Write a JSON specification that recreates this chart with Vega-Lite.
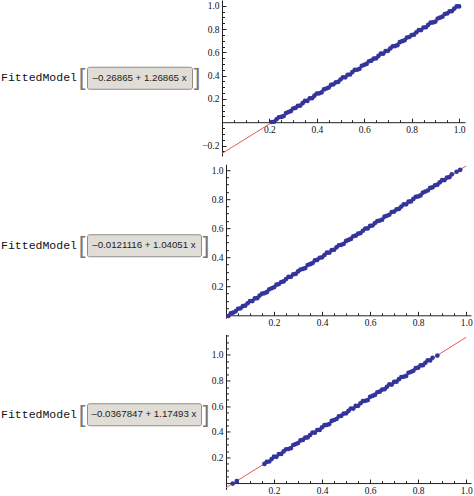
{
"$schema":"https://vega.github.io/schema/vega-lite/v6.json",
"padding":0,
"background":"white",
"spacing":7,
"datasets":{
"fit1":[{"x":0,"y":-0.26865},{"x":1,"y":1.0}],
"fit2":[{"x":0,"y":-0.0121116},{"x":1,"y":1.0284}],
"fit3":[{"x":0,"y":-0.0367847},{"x":1,"y":1.1381}],
"pts1":[{"x":0.21,"y":0.002},{"x":0.22,"y":0.004},{"x":0.23,"y":0.025},{"x":0.24,"y":0.043},{"x":0.25,"y":0.046},{"x":0.26,"y":0.053},{"x":0.27,"y":0.079},{"x":0.28,"y":0.087},{"x":0.29,"y":0.095},{"x":0.30,"y":0.118},{"x":0.31,"y":0.123},{"x":0.32,"y":0.140},{"x":0.33,"y":0.143},{"x":0.34,"y":0.164},{"x":0.35,"y":0.183},{"x":0.36,"y":0.183},{"x":0.37,"y":0.205},{"x":0.38,"y":0.207},{"x":0.39,"y":0.228},{"x":0.40,"y":0.246},{"x":0.41,"y":0.248},{"x":0.42,"y":0.256},{"x":0.43,"y":0.282},{"x":0.44,"y":0.290},{"x":0.45,"y":0.298},{"x":0.46,"y":0.321},{"x":0.47,"y":0.326},{"x":0.48,"y":0.343},{"x":0.49,"y":0.346},{"x":0.50,"y":0.367},{"x":0.51,"y":0.386},{"x":0.52,"y":0.386},{"x":0.53,"y":0.408},{"x":0.54,"y":0.410},{"x":0.55,"y":0.431},{"x":0.56,"y":0.449},{"x":0.57,"y":0.451},{"x":0.58,"y":0.459},{"x":0.59,"y":0.485},{"x":0.60,"y":0.493},{"x":0.61,"y":0.501},{"x":0.62,"y":0.524},{"x":0.63,"y":0.529},{"x":0.64,"y":0.546},{"x":0.65,"y":0.549},{"x":0.66,"y":0.570},{"x":0.67,"y":0.589},{"x":0.68,"y":0.589},{"x":0.69,"y":0.611},{"x":0.70,"y":0.613},{"x":0.71,"y":0.634},{"x":0.72,"y":0.652},{"x":0.73,"y":0.654},{"x":0.74,"y":0.662},{"x":0.75,"y":0.688},{"x":0.76,"y":0.696},{"x":0.77,"y":0.704},{"x":0.78,"y":0.727},{"x":0.79,"y":0.732},{"x":0.80,"y":0.749},{"x":0.81,"y":0.752},{"x":0.82,"y":0.773},{"x":0.83,"y":0.792},{"x":0.84,"y":0.792},{"x":0.85,"y":0.814},{"x":0.86,"y":0.816},{"x":0.87,"y":0.837},{"x":0.88,"y":0.855},{"x":0.89,"y":0.857},{"x":0.90,"y":0.865},{"x":0.91,"y":0.891},{"x":0.92,"y":0.899},{"x":0.93,"y":0.907},{"x":0.94,"y":0.930},{"x":0.95,"y":0.935},{"x":0.96,"y":0.952},{"x":0.97,"y":0.955},{"x":0.98,"y":0.976},{"x":0.99,"y":0.995},{"x":1.00,"y":0.995}],
"pts2":[{"x":0.01,"y":-0.005},{"x":0.02,"y":0.013},{"x":0.03,"y":0.019},{"x":0.04,"y":0.027},{"x":0.05,"y":0.045},{"x":0.06,"y":0.048},{"x":0.07,"y":0.063},{"x":0.08,"y":0.066},{"x":0.09,"y":0.083},{"x":0.10,"y":0.098},{"x":0.11,"y":0.098},{"x":0.12,"y":0.116},{"x":0.13,"y":0.118},{"x":0.14,"y":0.136},{"x":0.15,"y":0.149},{"x":0.16,"y":0.152},{"x":0.17,"y":0.159},{"x":0.18,"y":0.179},{"x":0.19,"y":0.186},{"x":0.20,"y":0.193},{"x":0.21,"y":0.211},{"x":0.22,"y":0.215},{"x":0.23,"y":0.229},{"x":0.24,"y":0.233},{"x":0.25,"y":0.249},{"x":0.26,"y":0.264},{"x":0.27,"y":0.265},{"x":0.28,"y":0.282},{"x":0.29,"y":0.285},{"x":0.30,"y":0.302},{"x":0.31,"y":0.315},{"x":0.32,"y":0.319},{"x":0.33,"y":0.325},{"x":0.34,"y":0.346},{"x":0.35,"y":0.352},{"x":0.36,"y":0.359},{"x":0.37,"y":0.378},{"x":0.38,"y":0.381},{"x":0.39,"y":0.396},{"x":0.40,"y":0.399},{"x":0.41,"y":0.415},{"x":0.42,"y":0.431},{"x":0.43,"y":0.431},{"x":0.44,"y":0.449},{"x":0.45,"y":0.451},{"x":0.46,"y":0.468},{"x":0.47,"y":0.482},{"x":0.48,"y":0.485},{"x":0.49,"y":0.492},{"x":0.50,"y":0.512},{"x":0.51,"y":0.519},{"x":0.52,"y":0.526},{"x":0.53,"y":0.544},{"x":0.54,"y":0.548},{"x":0.55,"y":0.562},{"x":0.56,"y":0.566},{"x":0.57,"y":0.582},{"x":0.58,"y":0.597},{"x":0.59,"y":0.598},{"x":0.60,"y":0.615},{"x":0.61,"y":0.618},{"x":0.62,"y":0.635},{"x":0.63,"y":0.648},{"x":0.64,"y":0.652},{"x":0.65,"y":0.658},{"x":0.66,"y":0.679},{"x":0.67,"y":0.685},{"x":0.68,"y":0.692},{"x":0.69,"y":0.711},{"x":0.70,"y":0.714},{"x":0.71,"y":0.729},{"x":0.72,"y":0.732},{"x":0.73,"y":0.748},{"x":0.74,"y":0.764},{"x":0.75,"y":0.764},{"x":0.76,"y":0.782},{"x":0.77,"y":0.784},{"x":0.78,"y":0.801},{"x":0.79,"y":0.815},{"x":0.80,"y":0.818},{"x":0.81,"y":0.825},{"x":0.82,"y":0.845},{"x":0.83,"y":0.852},{"x":0.84,"y":0.859},{"x":0.85,"y":0.877},{"x":0.86,"y":0.881},{"x":0.87,"y":0.895},{"x":0.88,"y":0.899},{"x":0.89,"y":0.915},{"x":0.90,"y":0.930},{"x":0.91,"y":0.931},{"x":0.92,"y":0.948},{"x":0.93,"y":0.951},{"x":0.94,"y":0.970},{"x":0.96,"y":0.988},{"x":0.975,"y":1.001}],
"pts3":[{"x":0.028,"y":-0.004},{"x":0.045,"y":0.016},{"x":0.16,"y":0.149},{"x":0.17,"y":0.166},{"x":0.18,"y":0.168},{"x":0.19,"y":0.187},{"x":0.20,"y":0.206},{"x":0.21,"y":0.205},{"x":0.22,"y":0.226},{"x":0.23,"y":0.227},{"x":0.24,"y":0.247},{"x":0.25,"y":0.264},{"x":0.26,"y":0.266},{"x":0.27,"y":0.272},{"x":0.28,"y":0.297},{"x":0.29,"y":0.304},{"x":0.30,"y":0.312},{"x":0.31,"y":0.333},{"x":0.32,"y":0.337},{"x":0.33,"y":0.354},{"x":0.34,"y":0.356},{"x":0.35,"y":0.375},{"x":0.36,"y":0.394},{"x":0.37,"y":0.393},{"x":0.38,"y":0.414},{"x":0.39,"y":0.415},{"x":0.40,"y":0.435},{"x":0.41,"y":0.452},{"x":0.42,"y":0.454},{"x":0.43,"y":0.460},{"x":0.44,"y":0.485},{"x":0.45,"y":0.492},{"x":0.46,"y":0.500},{"x":0.47,"y":0.521},{"x":0.48,"y":0.525},{"x":0.49,"y":0.542},{"x":0.50,"y":0.544},{"x":0.51,"y":0.563},{"x":0.52,"y":0.582},{"x":0.53,"y":0.581},{"x":0.54,"y":0.602},{"x":0.55,"y":0.603},{"x":0.56,"y":0.623},{"x":0.57,"y":0.640},{"x":0.58,"y":0.642},{"x":0.59,"y":0.648},{"x":0.60,"y":0.673},{"x":0.61,"y":0.680},{"x":0.62,"y":0.688},{"x":0.63,"y":0.709},{"x":0.64,"y":0.713},{"x":0.65,"y":0.730},{"x":0.66,"y":0.732},{"x":0.67,"y":0.751},{"x":0.68,"y":0.770},{"x":0.69,"y":0.769},{"x":0.70,"y":0.790},{"x":0.71,"y":0.791},{"x":0.72,"y":0.811},{"x":0.73,"y":0.828},{"x":0.74,"y":0.830},{"x":0.75,"y":0.836},{"x":0.76,"y":0.861},{"x":0.77,"y":0.868},{"x":0.78,"y":0.876},{"x":0.79,"y":0.897},{"x":0.80,"y":0.901},{"x":0.81,"y":0.918},{"x":0.82,"y":0.920},{"x":0.83,"y":0.939},{"x":0.84,"y":0.958},{"x":0.85,"y":0.957},{"x":0.86,"y":0.978},{"x":0.88,"y":0.995}]
},
"vconcat":[
{"hconcat":[
 {"width":78,"height":16,"data":{"values":[{"t":"FittedModel"}]},"mark":{"type":"text","font":"Liberation Mono","fontSize":11.5,"color":"#111","baseline":"middle"},"encoding":{"text":{"field":"t"}}},
 {"width":8,"height":26,"data":{"values":[{"t":"["}]},"mark":{"type":"text","font":"Liberation Sans","fontSize":24,"color":"#777","baseline":"middle"},"encoding":{"text":{"field":"t"}}},
 {"width":105,"height":22,"view":{"fill":"#e0ddd6","stroke":"#8f8d88","cornerRadius":2},"data":{"values":[{"t":"–0.26865 + 1.26865 x"}]},"mark":{"type":"text","font":"Liberation Sans","fontSize":9.7,"color":"#222","baseline":"middle"},"encoding":{"text":{"field":"t"}}},
 {"width":8,"height":26,"data":{"values":[{"t":"]"}]},"mark":{"type":"text","font":"Liberation Sans","fontSize":24,"color":"#777","baseline":"middle"},"encoding":{"text":{"field":"t"}}},
 {"width":243,"height":156,
  "layer":[
   {"data":{"name":"fit1"},"mark":{"type":"line","color":"#e05a5a","strokeWidth":1},
    "encoding":{
     "x":{"field":"x","type":"quantitative","scale":{"domain":[0,1.025],"nice":false,"zero":false},
      "axis":{"orient":"bottom","offset":-33.8,"values":[0.2,0.4,0.6,0.8,1.0],"format":".1f","tickSize":-4,"labelPadding":6}},
     "y":{"field":"y","type":"quantitative","scale":{"domain":[-0.29,1.05],"nice":false,"zero":false},
      "axis":{"orient":"left","values":[-0.2,0.2,0.4,0.6,0.8,1.0],"format":".1f","tickSize":-4,"labelPadding":7,"minExtent":21}}}},
   {"data":{"name":"pts1"},"mark":{"type":"circle","color":"#34349a","opacity":1,"size":22},
    "encoding":{
     "x":{"field":"x","type":"quantitative","axis":{"orient":"bottom","offset":-33.8,"values":[0.05,0.1,0.15,0.25,0.3,0.35,0.45,0.5,0.55,0.65,0.7,0.75,0.85,0.9,0.95],"labels":false,"domain":false,"tickSize":-2.5}},
     "y":{"field":"y","type":"quantitative","axis":{"orient":"left","values":[-0.25,-0.15,-0.1,-0.05,0.05,0.1,0.15,0.25,0.3,0.35,0.45,0.5,0.55,0.65,0.7,0.75,0.85,0.9,0.95],"labels":false,"domain":false,"tickSize":-2.5,"minExtent":0}}}}
  ],
  "resolve":{"axis":{"x":"independent","y":"independent"}}}
 ],"spacing":0,"center":true},
{"hconcat":[
 {"width":78,"height":16,"data":{"values":[{"t":"FittedModel"}]},"mark":{"type":"text","font":"Liberation Mono","fontSize":11.5,"color":"#111","baseline":"middle"},"encoding":{"text":{"field":"t"}}},
 {"width":8,"height":26,"data":{"values":[{"t":"["}]},"mark":{"type":"text","font":"Liberation Sans","fontSize":24,"color":"#777","baseline":"middle"},"encoding":{"text":{"field":"t"}}},
 {"width":114,"height":22,"view":{"fill":"#e0ddd6","stroke":"#8f8d88","cornerRadius":2},"data":{"values":[{"t":"–0.0121116 + 1.04051 x"}]},"mark":{"type":"text","font":"Liberation Sans","fontSize":9.7,"color":"#222","baseline":"middle"},"encoding":{"text":{"field":"t"}}},
 {"width":8,"height":26,"data":{"values":[{"t":"]"}]},"mark":{"type":"text","font":"Liberation Sans","fontSize":24,"color":"#777","baseline":"middle"},"encoding":{"text":{"field":"t"}}},
 {"width":245,"height":154,
  "layer":[
   {"data":{"name":"fit2"},"mark":{"type":"line","color":"#e05a5a","strokeWidth":1},
    "encoding":{
     "x":{"field":"x","type":"quantitative","scale":{"domain":[0,1.02],"nice":false,"zero":false},
      "axis":{"orient":"bottom","offset":-2.9,"values":[0.2,0.4,0.6,0.8,1.0],"format":".1f","tickSize":-4,"labelPadding":6}},
     "y":{"field":"y","type":"quantitative","scale":{"domain":[-0.02,1.04],"nice":false,"zero":false},
      "axis":{"orient":"left","values":[0.2,0.4,0.6,0.8,1.0],"format":".1f","tickSize":-4,"labelPadding":7,"minExtent":16}}}},
   {"data":{"name":"pts2"},"mark":{"type":"circle","color":"#34349a","opacity":1,"size":22},
    "encoding":{
     "x":{"field":"x","type":"quantitative","axis":{"orient":"bottom","offset":-2.9,"values":[0.05,0.1,0.15,0.25,0.3,0.35,0.45,0.5,0.55,0.65,0.7,0.75,0.85,0.9,0.95],"labels":false,"domain":false,"tickSize":-2.5}},
     "y":{"field":"y","type":"quantitative","axis":{"orient":"left","values":[0.05,0.1,0.15,0.25,0.3,0.35,0.45,0.5,0.55,0.65,0.7,0.75,0.85,0.9,0.95],"labels":false,"domain":false,"tickSize":-2.5,"minExtent":0}}}}
  ],
  "resolve":{"axis":{"x":"independent","y":"independent"}}}
 ],"spacing":0,"center":true},
{"hconcat":[
 {"width":78,"height":16,"data":{"values":[{"t":"FittedModel"}]},"mark":{"type":"text","font":"Liberation Mono","fontSize":11.5,"color":"#111","baseline":"middle"},"encoding":{"text":{"field":"t"}}},
 {"width":8,"height":26,"data":{"values":[{"t":"["}]},"mark":{"type":"text","font":"Liberation Sans","fontSize":24,"color":"#777","baseline":"middle"},"encoding":{"text":{"field":"t"}}},
 {"width":114,"height":22,"view":{"fill":"#e0ddd6","stroke":"#8f8d88","cornerRadius":2},"data":{"values":[{"t":"–0.0367847 + 1.17493 x"}]},"mark":{"type":"text","font":"Liberation Sans","fontSize":9.7,"color":"#222","baseline":"middle"},"encoding":{"text":{"field":"t"}}},
 {"width":8,"height":26,"data":{"values":[{"t":"]"}]},"mark":{"type":"text","font":"Liberation Sans","fontSize":24,"color":"#777","baseline":"middle"},"encoding":{"text":{"field":"t"}}},
 {"width":245,"height":155,
  "layer":[
   {"data":{"name":"fit3"},"mark":{"type":"line","color":"#e05a5a","strokeWidth":1},
    "encoding":{
     "x":{"field":"x","type":"quantitative","scale":{"domain":[0,1.02],"nice":false,"zero":false},
      "axis":{"orient":"bottom","offset":-6.4,"values":[0.2,0.4,0.6,0.8,1.0],"format":".1f","tickSize":-4,"labelPadding":6}},
     "y":{"field":"y","type":"quantitative","scale":{"domain":[-0.05,1.16],"nice":false,"zero":false},
      "axis":{"orient":"left","values":[0.2,0.4,0.6,0.8,1.0],"format":".1f","tickSize":-4,"labelPadding":7,"minExtent":16}}}},
   {"data":{"name":"pts3"},"mark":{"type":"circle","color":"#34349a","opacity":1,"size":22},
    "encoding":{
     "x":{"field":"x","type":"quantitative","axis":{"orient":"bottom","offset":-6.4,"values":[0.05,0.1,0.15,0.25,0.3,0.35,0.45,0.5,0.55,0.65,0.7,0.75,0.85,0.9,0.95],"labels":false,"domain":false,"tickSize":-2.5}},
     "y":{"field":"y","type":"quantitative","axis":{"orient":"left","values":[0.05,0.1,0.15,0.25,0.3,0.35,0.45,0.5,0.55,0.65,0.7,0.75,0.85,0.9,0.95,1.05,1.1,1.15],"labels":false,"domain":false,"tickSize":-2.5,"minExtent":0}}}}
  ],
  "resolve":{"axis":{"x":"independent","y":"independent"}}}
 ],"spacing":0,"center":true}
],
"config":{
 "view":{"stroke":null},
 "axis":{"grid":false,"title":null,"domainColor":"#222","tickColor":"#222","domainWidth":1,"tickWidth":1,"labelFont":"Liberation Serif","labelFontSize":9.5,"labelColor":"#111","labelFlush":false,"labelOverlap":false},
 "axisY":{"minExtent":0}
}
}
